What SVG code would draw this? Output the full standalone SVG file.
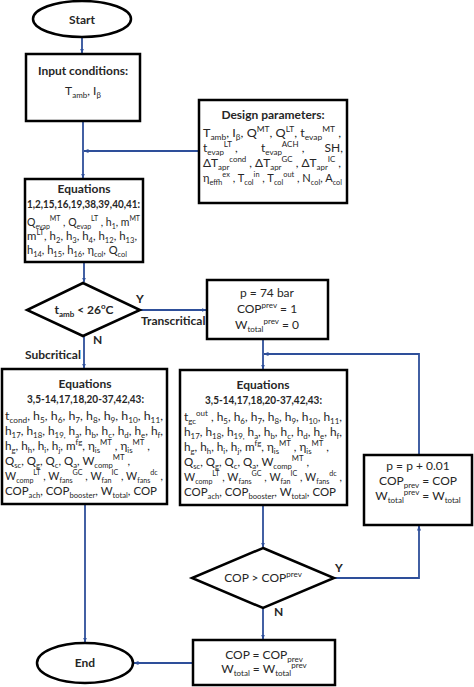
<svg xmlns="http://www.w3.org/2000/svg" width="474" height="687" viewBox="0 0 474 687">
<defs>
<marker id="ah" viewBox="0 0 10 10" refX="9" refY="5" markerWidth="5" markerHeight="5" orient="auto" markerUnits="userSpaceOnUse">
<path d="M0,1 L10,5 L0,9 z" fill="#2E4F9A"/>
</marker>
</defs>
<style>
.box{fill:#fff;stroke:#000;stroke-width:2.5}
.c{fill:none;stroke:#2E4F9A;stroke-width:1.8}
text{font-family:Lato,"Liberation Sans",sans-serif;font-size:12px;fill:#262626}
.b{font-weight:bold}
.m{text-anchor:middle}
.s,.p{font-size:8px}
</style>
<rect width="474" height="687" fill="#fff"/>
<g id="connectors">
<path class="c" d="M82,37 V53" marker-end="url(#ah)"/>
<path class="c" d="M83,121 V178" marker-end="url(#ah)"/>
<path class="c" d="M199,151 H84" marker-end="url(#ah)"/>
<path class="c" d="M84,262 V282" marker-end="url(#ah)"/>
<path class="c" d="M140,310 H206" marker-end="url(#ah)"/>
<path class="c" d="M84,336 V368" marker-end="url(#ah)"/>
<path class="c" d="M263,339 V369" marker-end="url(#ah)"/>
<path class="c" d="M419,455 V354 H264" marker-end="url(#ah)"/>
<path class="c" d="M263,505 V547" marker-end="url(#ah)"/>
<path class="c" d="M334,578 H419 V526" marker-end="url(#ah)"/>
<path class="c" d="M263,608 V639" marker-end="url(#ah)"/>
<path class="c" d="M193,663 H134" marker-end="url(#ah)"/>
<path class="c" d="M85,504 V642" marker-end="url(#ah)"/>
</g>
<g id="start">
<ellipse cx="82" cy="19" rx="49" ry="18" fill="#fff" stroke="#000" stroke-width="2.5"/>
<text class="b m" x="82" y="24">Start</text>
</g>
<g id="input">
<rect class="box" x="26" y="54" width="114" height="67"/>
<text class="b m" x="83" y="75">Input conditions:</text>
<text class="m" x="83" y="95">T<tspan class="s" dy="3">amb</tspan><tspan dy="-3">, I</tspan><tspan class="s" dy="3">β</tspan></text>
</g>
<g id="design">
<rect class="box" x="199" y="100" width="148" height="103"/>
<text class="b m" x="273" y="119">Design parameters:</text>
<text x="203" y="137" textLength="138" lengthAdjust="spacingAndGlyphs">T<tspan class="s" dy="3">amb</tspan><tspan dy="-3">, I</tspan><tspan class="s" dy="3">β</tspan><tspan dy="-3">, Q</tspan><tspan class="p" dy="-5">MT</tspan><tspan dy="5">, Q</tspan><tspan class="p" dy="-5">LT</tspan><tspan dy="5">, t</tspan><tspan class="s" dy="3">evap</tspan><tspan class="p" dy="-8">MT</tspan><tspan dy="5"> ,</tspan></text>
<text x="203" y="152">t<tspan class="s" dy="3">evap</tspan><tspan class="p" dy="-8">LT</tspan><tspan dy="5"> ,</tspan></text>
<text x="261" y="152">t<tspan class="s" dy="3">evap</tspan><tspan class="p" dy="-8">ACH</tspan><tspan dy="5"> ,</tspan></text>
<text x="343" y="152" text-anchor="end">SH,</text>
<text x="203" y="167" textLength="138" lengthAdjust="spacingAndGlyphs">ΔT<tspan class="s" dy="3">apr</tspan><tspan class="p" dy="-8">cond</tspan><tspan dy="5"> , ΔT</tspan><tspan class="s" dy="3">apr</tspan><tspan class="p" dy="-8">GC</tspan><tspan dy="5"> , ΔT</tspan><tspan class="s" dy="3">apr</tspan><tspan class="p" dy="-8">IC</tspan><tspan dy="5"> ,</tspan></text>
<text x="203" y="182" textLength="139" lengthAdjust="spacingAndGlyphs">η<tspan class="s" dy="3">eff</tspan><tspan class="p" dy="-8">hex</tspan><tspan dy="5"> , T</tspan><tspan class="s" dy="3">col</tspan><tspan class="p" dy="-8">in</tspan><tspan dy="5"> , T</tspan><tspan class="s" dy="3">col</tspan><tspan class="p" dy="-8">out</tspan><tspan dy="5"> , N</tspan><tspan class="s" dy="3">col</tspan><tspan dy="-3">, A</tspan><tspan class="s" dy="3">col</tspan></text>
</g>
<g id="eq1">
<rect class="box" x="25" y="179" width="118" height="83"/>
<text class="b m" x="84" y="193">Equations</text>
<text class="b" x="27" y="208" textLength="113" lengthAdjust="spacingAndGlyphs">1,2,15,16,19,38,39,40,41:</text>
<text x="27" y="226" textLength="113" lengthAdjust="spacingAndGlyphs">Q<tspan class="s" dy="3">evap</tspan><tspan class="p" dy="-8">MT</tspan><tspan dy="5"> , Q</tspan><tspan class="s" dy="3">evap</tspan><tspan class="p" dy="-8">LT</tspan><tspan dy="5"> , h</tspan><tspan class="s" dy="3">1</tspan><tspan dy="-3">, m</tspan><tspan class="p" dy="-5">MT</tspan></text>
<text x="27" y="240" textLength="110" lengthAdjust="spacingAndGlyphs">m<tspan class="p" dy="-5">LT</tspan><tspan dy="5">, h</tspan><tspan class="s" dy="3">2</tspan><tspan dy="-3">, h</tspan><tspan class="s" dy="3">3</tspan><tspan dy="-3">, h</tspan><tspan class="s" dy="3">4</tspan><tspan dy="-3">, h</tspan><tspan class="s" dy="3">12</tspan><tspan dy="-3">, h</tspan><tspan class="s" dy="3">13</tspan><tspan dy="-3">,</tspan></text>
<text x="27" y="254" textLength="100" lengthAdjust="spacingAndGlyphs">h<tspan class="s" dy="3">14</tspan><tspan dy="-3">, h</tspan><tspan class="s" dy="3">15</tspan><tspan dy="-3">, h</tspan><tspan class="s" dy="3">16</tspan><tspan dy="-3">, η</tspan><tspan class="s" dy="3">col</tspan><tspan dy="-3">, Q</tspan><tspan class="s" dy="3">col</tspan></text>
</g>
<g id="dec1">
<polygon points="83,283 140,310 83,336 27,310" fill="#fff" stroke="#000" stroke-width="2.5"/>
<text class="b m" x="84" y="314">t<tspan class="s" dy="3">amb</tspan><tspan dy="-3"> &lt; 26</tspan><tspan class="p" dy="-5">o</tspan><tspan dy="5">C</tspan></text>
</g>
<g id="labels">
<text class="b" x="136" y="303">Y</text>
<text class="b" x="141" y="325">Transcritical</text>
<text class="b" x="93" y="344">N</text>
<text class="b" x="25" y="359">Subcritical</text>
<text class="b" x="335" y="572">Y</text>
<text class="b" x="274" y="616">N</text>
</g>
<g id="init">
<rect class="box" x="207" y="280" width="121" height="59"/>
<text class="m" x="267" y="297">p = 74 bar</text>
<text class="m" x="267" y="313">COP<tspan class="p" dy="-5">prev</tspan><tspan dy="5"> = 1</tspan></text>
<text class="m" x="267" y="329">W<tspan class="s" dy="3">total</tspan><tspan class="p" dy="-8">prev</tspan><tspan dy="5"> = 0</tspan></text>
</g>
<g id="eqsub">
<rect class="box" x="2" y="369" width="165" height="135"/>
<text class="b m" x="85" y="388">Equations</text>
<text class="b" x="27" y="403" textLength="117" lengthAdjust="spacingAndGlyphs">3,5-14,17,18,20-37,42,43:</text>
<text x="5" y="420" textLength="158" lengthAdjust="spacingAndGlyphs">t<tspan class="s" dy="3">cond</tspan><tspan dy="-3">, h</tspan><tspan class="s" dy="3">5</tspan><tspan dy="-3">, h</tspan><tspan class="s" dy="3">6</tspan><tspan dy="-3">, h</tspan><tspan class="s" dy="3">7</tspan><tspan dy="-3">, h</tspan><tspan class="s" dy="3">8</tspan><tspan dy="-3">, h</tspan><tspan class="s" dy="3">9</tspan><tspan dy="-3">, h</tspan><tspan class="s" dy="3">10</tspan><tspan dy="-3">, h</tspan><tspan class="s" dy="3">11</tspan><tspan dy="-3">,</tspan></text>
<text x="5" y="435" textLength="158" lengthAdjust="spacingAndGlyphs">h<tspan class="s" dy="3">17</tspan><tspan dy="-3">, h</tspan><tspan class="s" dy="3">18</tspan><tspan dy="-3">, h</tspan><tspan class="s" dy="3">19,</tspan><tspan dy="-3"> h</tspan><tspan class="s" dy="3">a</tspan><tspan dy="-3">, h</tspan><tspan class="s" dy="3">b</tspan><tspan dy="-3">, h</tspan><tspan class="s" dy="3">c</tspan><tspan dy="-3">, h</tspan><tspan class="s" dy="3">d</tspan><tspan dy="-3">, h</tspan><tspan class="s" dy="3">e</tspan><tspan dy="-3">, h</tspan><tspan class="s" dy="3">f</tspan><tspan dy="-3">,</tspan></text>
<text x="5" y="450" textLength="145" lengthAdjust="spacingAndGlyphs">h<tspan class="s" dy="3">g</tspan><tspan dy="-3">, h</tspan><tspan class="s" dy="3">h</tspan><tspan dy="-3">, h</tspan><tspan class="s" dy="3">i</tspan><tspan dy="-3">, h</tspan><tspan class="s" dy="3">j</tspan><tspan dy="-3">, m</tspan><tspan class="p" dy="-5">fg</tspan><tspan dy="5">, η</tspan><tspan class="s" dy="3">is</tspan><tspan class="p" dy="-8">MT</tspan><tspan dy="5"> , η</tspan><tspan class="s" dy="3">is</tspan><tspan class="p" dy="-8">MT</tspan><tspan dy="5"> ,</tspan></text>
<text x="5" y="465" textLength="125" lengthAdjust="spacingAndGlyphs">Q<tspan class="s" dy="3">sc</tspan><tspan dy="-3">, Q</tspan><tspan class="s" dy="3">g</tspan><tspan dy="-3">, Q</tspan><tspan class="s" dy="3">c</tspan><tspan dy="-3">, Q</tspan><tspan class="s" dy="3">a</tspan><tspan dy="-3">, W</tspan><tspan class="s" dy="3">comp</tspan><tspan class="p" dy="-8">MT</tspan><tspan dy="5"> ,</tspan></text>
<text x="5" y="480" textLength="158" lengthAdjust="spacingAndGlyphs">W<tspan class="s" dy="3">comp</tspan><tspan class="p" dy="-8">LT</tspan><tspan dy="5"> , W</tspan><tspan class="s" dy="3">fans</tspan><tspan class="p" dy="-8">GC</tspan><tspan dy="5"> , W</tspan><tspan class="s" dy="3">fan</tspan><tspan class="p" dy="-8">IC</tspan><tspan dy="5"> , W</tspan><tspan class="s" dy="3">fans</tspan><tspan class="p" dy="-8">dc</tspan><tspan dy="5"> ,</tspan></text>
<text x="5" y="495" textLength="152" lengthAdjust="spacingAndGlyphs">COP<tspan class="s" dy="3">ach</tspan><tspan dy="-3">, COP</tspan><tspan class="s" dy="3">booster</tspan><tspan dy="-3">, W</tspan><tspan class="s" dy="3">total</tspan><tspan dy="-3">, COP</tspan></text>
</g>
<g id="eqtrans">
<rect class="box" x="180" y="370" width="167" height="135"/>
<text class="b m" x="263" y="389">Equations</text>
<text class="b" x="205" y="404" textLength="117" lengthAdjust="spacingAndGlyphs">3,5-14,17,18,20-37,42,43:</text>
<text x="184" y="421" textLength="158" lengthAdjust="spacingAndGlyphs">t<tspan class="s" dy="3">gc</tspan><tspan class="p" dy="-8">out</tspan><tspan dy="5"> , h</tspan><tspan class="s" dy="3">5</tspan><tspan dy="-3">, h</tspan><tspan class="s" dy="3">6</tspan><tspan dy="-3">, h</tspan><tspan class="s" dy="3">7</tspan><tspan dy="-3">, h</tspan><tspan class="s" dy="3">8</tspan><tspan dy="-3">, h</tspan><tspan class="s" dy="3">9</tspan><tspan dy="-3">, h</tspan><tspan class="s" dy="3">10</tspan><tspan dy="-3">, h</tspan><tspan class="s" dy="3">11</tspan><tspan dy="-3">,</tspan></text>
<text x="184" y="436" textLength="158" lengthAdjust="spacingAndGlyphs">h<tspan class="s" dy="3">17</tspan><tspan dy="-3">, h</tspan><tspan class="s" dy="3">18</tspan><tspan dy="-3">, h</tspan><tspan class="s" dy="3">19,</tspan><tspan dy="-3"> h</tspan><tspan class="s" dy="3">a</tspan><tspan dy="-3">, h</tspan><tspan class="s" dy="3">b</tspan><tspan dy="-3">, h</tspan><tspan class="s" dy="3">c</tspan><tspan dy="-3">, h</tspan><tspan class="s" dy="3">d</tspan><tspan dy="-3">, h</tspan><tspan class="s" dy="3">e</tspan><tspan dy="-3">, h</tspan><tspan class="s" dy="3">f</tspan><tspan dy="-3">,</tspan></text>
<text x="184" y="451" textLength="145" lengthAdjust="spacingAndGlyphs">h<tspan class="s" dy="3">g</tspan><tspan dy="-3">, h</tspan><tspan class="s" dy="3">h</tspan><tspan dy="-3">, h</tspan><tspan class="s" dy="3">i</tspan><tspan dy="-3">, h</tspan><tspan class="s" dy="3">j</tspan><tspan dy="-3">, m</tspan><tspan class="p" dy="-5">fg</tspan><tspan dy="5">, η</tspan><tspan class="s" dy="3">is</tspan><tspan class="p" dy="-8">MT</tspan><tspan dy="5"> , η</tspan><tspan class="s" dy="3">is</tspan><tspan class="p" dy="-8">MT</tspan><tspan dy="5"> ,</tspan></text>
<text x="184" y="466" textLength="125" lengthAdjust="spacingAndGlyphs">Q<tspan class="s" dy="3">sc</tspan><tspan dy="-3">, Q</tspan><tspan class="s" dy="3">g</tspan><tspan dy="-3">, Q</tspan><tspan class="s" dy="3">c</tspan><tspan dy="-3">, Q</tspan><tspan class="s" dy="3">a</tspan><tspan dy="-3">, W</tspan><tspan class="s" dy="3">comp</tspan><tspan class="p" dy="-8">MT</tspan><tspan dy="5"> ,</tspan></text>
<text x="184" y="481" textLength="158" lengthAdjust="spacingAndGlyphs">W<tspan class="s" dy="3">comp</tspan><tspan class="p" dy="-8">LT</tspan><tspan dy="5"> , W</tspan><tspan class="s" dy="3">fans</tspan><tspan class="p" dy="-8">GC</tspan><tspan dy="5"> , W</tspan><tspan class="s" dy="3">fan</tspan><tspan class="p" dy="-8">IC</tspan><tspan dy="5"> , W</tspan><tspan class="s" dy="3">fans</tspan><tspan class="p" dy="-8">dc</tspan><tspan dy="5"> ,</tspan></text>
<text x="184" y="496" textLength="152" lengthAdjust="spacingAndGlyphs">COP<tspan class="s" dy="3">ach</tspan><tspan dy="-3">, COP</tspan><tspan class="s" dy="3">booster</tspan><tspan dy="-3">, W</tspan><tspan class="s" dy="3">total</tspan><tspan dy="-3">, COP</tspan></text>
</g>
<g id="update">
<rect class="box" x="364" y="455" width="108" height="70"/>
<text class="m" x="418" y="470">p = p + 0.01</text>
<text class="m" x="418" y="485">COP<tspan class="s" dy="3">prev</tspan><tspan dy="-3"> = COP</tspan></text>
<text class="m" x="418" y="500">W<tspan class="s" dy="3">total</tspan><tspan class="p" dy="-8">prev</tspan><tspan dy="5"> = W</tspan><tspan class="s" dy="3">total</tspan></text>
</g>
<g id="dec2">
<polygon points="263,548 334,578 263,608 192,578" fill="#fff" stroke="#000" stroke-width="2.5"/>
<text class="m" x="263" y="582">COP &gt; COP<tspan class="p" dy="-5">prev</tspan></text>
</g>
<g id="final">
<rect class="box" x="193" y="640" width="142" height="45"/>
<text class="m" x="264" y="659">COP = COP<tspan class="s" dy="3">prev</tspan></text>
<text class="m" x="264" y="673">W<tspan class="s" dy="3">total</tspan><tspan dy="-3"> = W</tspan><tspan class="s" dy="3">total</tspan><tspan class="p" dy="-8">prev</tspan></text>
</g>
<g id="end">
<ellipse cx="85" cy="663" rx="48" ry="20" fill="#fff" stroke="#000" stroke-width="2.5"/>
<text class="b m" x="85" y="667">End</text>
</g>
</svg>
